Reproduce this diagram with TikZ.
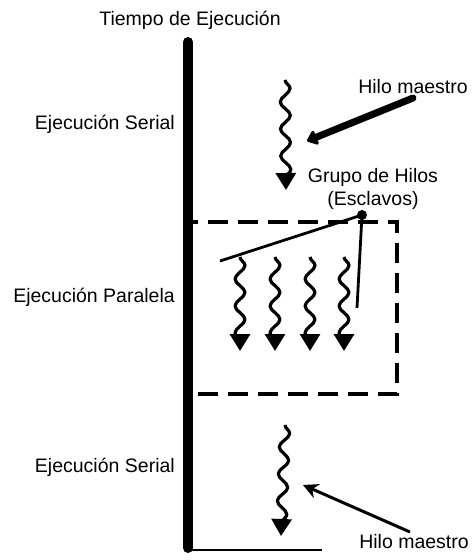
\documentclass[tikz,border=0pt]{standalone}
\usepackage{fontspec}
\setmainfont{Liberation Sans}
\usetikzlibrary{positioning,arrows.meta,decorations.pathmorphing}

\begin{document}
\begin{tikzpicture} [x=1pt,y=-1pt,
    every node/.style={font=\fontsize{19.5}{23}\selectfont, inner sep=0pt, align=center},
    eje/.style={line width=10pt, line cap=round},
    caja/.style={line width=3.5pt, dash pattern=on 20pt off 10pt},
    hilo/.style={line width=3.2pt, line join=round, decorate,
      decoration={snake, amplitude=5pt, segment length=27pt, post length=3pt},
      -{Triangle[width=20pt,length=17pt]}},
    grueso/.style={line width=7pt, line cap=round, -{Triangle[round,width=17pt,length=11pt]}},
    fino/.style={line width=3pt, -{Stealth[length=15pt,width=15pt]}},
    rama/.style={line width=2.8pt}
    ]
    \useasboundingbox (0,0) rectangle (474,560);

    \coordinate (c1) at (190,222);
    \coordinate (c2) at (397,394);
    \draw [caja] (c1) rectangle (c2);

    \coordinate (e1) at (188,42);
    \coordinate (e2) at (188,548);
    \coordinate (base) at (322,550);
    \draw [line width=1.5pt] (190,550) -- (base);
    \draw [eje] (e1) -- (e2);

    \node (tiempo) at (190,20) {Tiempo de Ejecución};
    \node (serialA) [anchor=east] at (175,124) {Ejecución Serial};
    \node (paralela) [anchor=east] at (175,297) {Ejecución Paralela};
    \node (serialB) [anchor=east] at (175,467) {Ejecución Serial};
    \node (maestroA) at (413,87) {Hilo maestro};
    \node (maestroB) at (414,542) {Hilo maestro};
    \node (grupo) at (373,189) {Grupo de Hilos\\(Esclavos)};

    % hilo maestro arriba
    \coordinate (h1) at (285,80);
    \coordinate (h2) at (286,190);
    \draw [hilo] (h1) -- (h2);
    \coordinate (m1) at (413,98);
    \coordinate (m2) at (307,141);
    \draw [grueso] (m1) -- (m2);

    % grupo de hilos
    \coordinate (g0) at (362,215);
    \coordinate (gA) at (220,261);
    \coordinate (gB) at (357,308);
    \draw [rama] (gA) -- (g0) -- (gB);
    \fill (g0) circle (5pt);

    \coordinate (p1) at (240,257);
    \coordinate (q1) at (240,351);
    \coordinate (p2) at (275,257);
    \coordinate (q2) at (275,351);
    \coordinate (p3) at (310,257);
    \coordinate (q3) at (310,351);
    \coordinate (p4) at (344,257);
    \coordinate (q4) at (344,351);
    \draw [hilo] (p1) -- (q1);
    \draw [hilo] (p2) -- (q2);
    \draw [hilo] (p3) -- (q3);
    \draw [hilo] (p4) -- (q4);

    % hilo maestro abajo
    \coordinate (h3) at (285,425);
    \coordinate (h4) at (281,536);
    \draw [hilo] (h3) -- (h4);
    \coordinate (m3) at (410,532);
    \coordinate (m4) at (303,485);
    \draw [fino] (m3) -- (m4);
\end{tikzpicture}
\end{document}
